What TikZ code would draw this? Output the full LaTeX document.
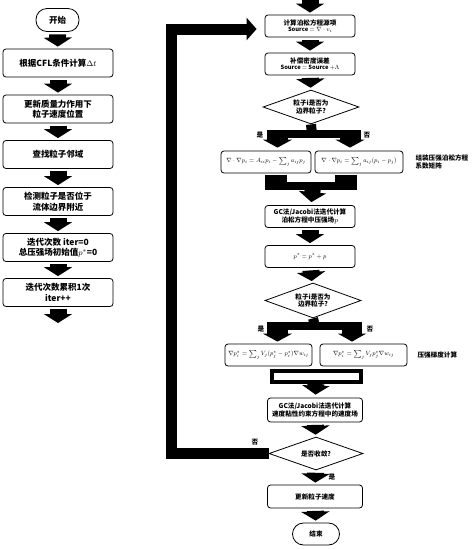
\documentclass[tikz,border=0pt]{standalone}
\usepackage{fontspec}
\setmainfont{Noto Sans CJK SC}
\usetikzlibrary{arrows.meta,shapes.geometric}
\newcommand{\fm}[1]{\scalebox{0.76}{\fontsize{8}{9}\selectfont$#1$}}
\begin{document}
\begin{tikzpicture}[x=1pt,y=-1pt,
  box/.style={draw, rounded corners=3pt, line width=0.8pt, align=center, inner sep=1pt},
  lbox/.style={box, minimum width=110pt, minimum height=28pt, font=\fontsize{8.5}{10.5}\selectfont\bfseries},
  rbox/.style={box, minimum width=90pt, minimum height=22pt, font=\fontsize{6.6}{7.8}\selectfont\bfseries},
  fbox/.style={box, minimum height=22pt},
  term/.style={draw, rounded corners=11pt, line width=0.8pt, minimum height=23pt, inner sep=1pt},
  dec/.style={draw, diamond, aspect=2.8, inner sep=0pt, line width=0.8pt, align=center, font=\fontsize{6.6}{7.8}\selectfont\bfseries},
  blk/.style={line width=17pt, -{Triangle[width=28pt,length=9pt]}, shorten >=2pt, shorten <=2.5pt},
  lbl/.style={font=\fontsize{6.6}{7.8}\selectfont\bfseries},
  ann/.style={font=\fontsize{6.6}{7.8}\selectfont\bfseries, align=left, anchor=west}
]
\useasboundingbox (0,0) rectangle (474,550);
% left column
\node[term, minimum width=43pt, font=\fontsize{8.5}{10}\selectfont\bfseries] (start) at (57.5,20) {开始};
\node[lbox] (b1) at (58,63) {根据CFL条件计算$\Delta t$};
\node[lbox] (b2) at (58,109) {更新质量力作用下\\粒子速度位置};
\node[lbox] (b3) at (58,154.5) {查找粒子邻域};
\node[lbox] (b4) at (58,201.5) {检测粒子是否位于\\流体边界附近};
\node[lbox] (b5) at (58,247.5) {迭代次数 iter=0\\总压强场初始值$p^*$=0};
\node[lbox] (b6) at (58,292.5) {迭代次数累积1次\\iter++};
\coordinate (lend) at (58,323);
\draw[blk] (start) -- (b1);
\draw[blk] (b1) -- (b2);
\draw[blk] (b2) -- (b3);
\draw[blk] (b3) -- (b4);
\draw[blk] (b4) -- (b5);
\draw[blk] (b5) -- (b6);
\draw[blk, shorten >=0pt] (b6) -- (lend);
% right column
\coordinate (rtop) at (310,0);
\node[rbox] (r1) at (310,26) {计算泊松方程源项\\[-1pt]{\fontsize{5.8}{7}\selectfont Source \fm{=\nabla\cdot v_i}}};
\node[rbox] (r2) at (310,64) {补偿密度误差\\[-1pt]{\fontsize{5.8}{7}\selectfont Source \fm{=} Source \fm{+\Lambda}}};
\node[dec, minimum width=96pt, minimum height=34pt] (d1) at (311,107) {粒子i是否为\\边界粒子?};
\node[fbox, minimum width=90pt] (lb1) at (266,162) {\fm{\nabla\cdot\nabla p_i = A_{ii}p_i-\sum\nolimits_j a_{ij}p_j}};
\node[fbox, minimum width=88pt] (rb1) at (359,162) {\fm{\nabla\cdot\nabla p_i = \sum\nolimits_j a_{ij}(p_i-p_j)}};
\node[ann] (a1) at (412,162) {组装压强泊松方程\\系数矩阵};
\node[rbox] (gc1) at (310,216.5) {GC法/Jacobi法迭代计算\\泊松方程中压强场$p$};
\node[fbox, minimum width=90pt] (ps) at (310,256.5) {\fm{p^*=p^*+p}};
\node[dec, minimum width=96pt, minimum height=35pt] (d2) at (313,300.5) {粒子i是否为\\边界粒子?};
\node[fbox, minimum width=87pt] (lb2) at (268.5,355) {\fm{\nabla p_i^* = \sum\nolimits_j V_j(p_j^*-p_i^*)\nabla w_{ij}}};
\node[fbox, minimum width=87pt] (rb2) at (363.5,355) {\fm{\nabla p_i^* = \sum\nolimits_j V_j p_j^*\nabla w_{ij}}};
\node[ann] (a2) at (414,355) {压强梯度计算};
\node[rbox, minimum width=95pt, minimum height=24pt] (gc2) at (315,410) {GC法/Jacobi法迭代计算\\速度粘性约束方程中的速度场};
\node[dec, minimum width=94pt, minimum height=33pt] (d3) at (316,453.5) {是否收敛?};
\node[rbox, minimum width=95pt, minimum height=23pt] (up) at (315,496.5) {更新粒子速度};
\node[term, minimum width=47pt, minimum height=22pt, font=\fontsize{6.6}{7.8}\selectfont\bfseries] (end) at (316,534) {结束};
% right arrows
\draw[blk, shorten <=0pt] (rtop) -- (r1);
\draw[blk] (r1) -- (r2);
\draw[blk] (r2) -- (d1);
% branch 1
\coordinate (j1) at (312,134);
\coordinate (j1l) at (277.5,134);
\coordinate (j1r) at (350,134);
\draw[line width=10pt] (d1.south) -- (j1);
\draw[line width=8pt] ([xshift=-10.5pt]j1l) -- ([xshift=10.5pt]j1r);
\draw[line width=21pt, -{Triangle[width=29pt,length=8pt]}, shorten >=3pt] (j1l) -- (j1l |- lb1.north);
\draw[line width=21pt, -{Triangle[width=29pt,length=8pt]}, shorten >=3pt] (j1r) -- (j1r |- rb1.north);
\node[lbl] (y1) at (260,135) {是};
\node[lbl] (n1) at (367,135) {否};
% merge 1
\coordinate (m1l) at (276,186);
\coordinate (m1r) at (346,186);
\coordinate (m1c) at (313,186);
\draw[line width=22pt] ([yshift=-2pt]lb1.south -| m1l) -- ([yshift=-4pt]m1l);
\draw[line width=22pt] ([yshift=-2pt]rb1.south -| m1r) -- ([yshift=-4pt]m1r);
\draw[line width=8pt] ([xshift=-11pt]m1l) -- ([xshift=11pt]m1r);
\draw[line width=16pt, -{Triangle[width=27pt,length=10pt]}, shorten >=3pt] (m1c) -- (gc1);
\draw[blk] (gc1) -- (ps);
\draw[blk] (ps) -- (d2);
% branch 2
\coordinate (j2) at (315,326);
\coordinate (j2l) at (277.5,326);
\coordinate (j2r) at (352,326);
\draw[line width=10pt] (d2.south) -- (j2);
\draw[line width=8pt] ([xshift=-10.5pt]j2l) -- ([xshift=10pt]j2r);
\draw[line width=21pt, -{Triangle[width=29pt,length=8pt]}, shorten >=2pt] (j2l) -- (j2l |- lb2.north);
\draw[line width=20pt, -{Triangle[width=28pt,length=8pt]}, shorten >=2pt] (j2r) -- (j2r |- rb2.north);
\node[lbl] (y2) at (261,329) {是};
\node[lbl] (n2) at (370,329) {否};
% merge 2
\coordinate (m2a) at (272,371);
\coordinate (m2b) at (361,382);
\coordinate (m2c) at (316,384);
\draw[line width=4pt] (m2a) rectangle (m2b);
\draw[line width=17pt, -{Triangle[width=27pt,length=9pt]}, shorten >=3pt] (m2c) -- (gc2);
\draw[blk] (gc2) -- (d3);
\draw[blk] (d3) -- (up);
\draw[blk] (up) -- (end);
\node[lbl] (y3) at (332,477) {是};
\node[lbl] (n3) at (255,442) {否};
% loop back
\coordinate (lt) at (171.5,29);
\draw[line width=11pt, line join=miter, -{Triangle[width=22pt,length=10pt]}, shorten >=8pt] (d3.west) -| (lt) -- (lt -| r1.west);
\end{tikzpicture}
\end{document}
